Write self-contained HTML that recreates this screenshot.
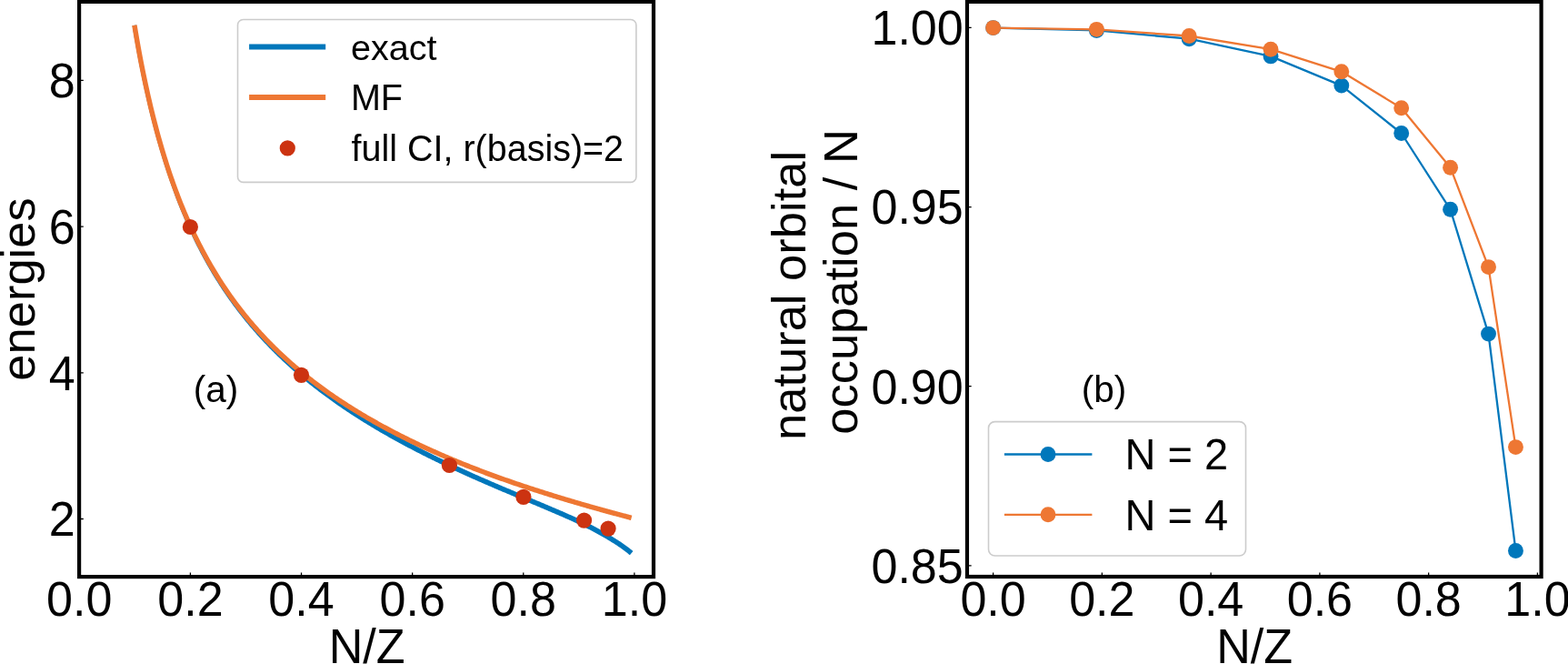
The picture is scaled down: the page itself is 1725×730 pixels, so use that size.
<!DOCTYPE html>
<html><head><meta charset="utf-8"><title>figure</title>
<style>html,body{margin:0;padding:0;background:#fff;}svg{display:block;}</style>
</head><body>
<svg width="1725" height="730" viewBox="0 0 1725 730">
<rect width="1725" height="730" fill="#fff"/>
<defs><clipPath id="cl"><rect x="87.1" y="1.9" width="631.9" height="632.2"/></clipPath><clipPath id="cr"><rect x="1063.95" y="1.9" width="631.6499999999999" height="632.1"/></clipPath></defs>
<g clip-path="url(#cl)">
<path d="M149.81,27.55 L151.18,35.78 L152.54,43.73 L153.91,51.44 L155.28,58.91 L156.65,66.16 L158.02,73.19 L159.39,80.02 L160.75,86.65 L162.12,93.10 L163.49,99.38 L164.86,105.48 L166.23,111.43 L167.59,117.22 L168.96,122.87 L170.33,128.38 L171.70,133.75 L173.06,138.99 L174.43,144.11 L175.80,149.11 L177.17,154.00 L178.53,158.77 L179.90,163.44 L181.27,168.01 L182.63,172.48 L184.00,176.85 L185.37,181.14 L186.73,185.33 L188.10,189.44 L189.47,193.47 L190.83,197.42 L192.20,201.30 L193.57,205.10 L194.93,208.82 L196.30,212.48 L197.67,216.07 L199.03,219.60 L200.40,223.06 L201.76,226.46 L203.13,229.80 L204.49,233.09 L205.86,236.32 L207.23,239.49 L208.59,242.61 L209.96,245.68 L211.32,248.71 L212.69,251.68 L214.05,254.60 L215.42,257.48 L216.78,260.32 L218.15,263.11 L219.51,265.86 L220.88,268.57 L222.25,271.24 L223.61,273.87 L224.98,276.46 L226.34,279.02 L227.70,281.54 L229.07,284.02 L230.43,286.47 L231.80,288.89 L233.16,291.27 L234.53,293.62 L235.89,295.94 L237.26,298.23 L238.62,300.49 L239.99,302.72 L241.35,304.92 L242.72,307.10 L244.08,309.25 L245.45,311.37 L246.81,313.46 L248.17,315.53 L249.54,317.58 L250.90,319.60 L252.27,321.59 L253.63,323.57 L255.00,325.52 L256.36,327.45 L257.72,329.35 L259.09,331.24 L260.45,333.10 L261.82,334.94 L263.18,336.77 L264.55,338.57 L265.91,340.36 L267.27,342.12 L268.64,343.87 L270.00,345.59 L271.37,347.30 L272.73,349.00 L274.10,350.67 L275.46,352.33 L276.83,353.97 L278.20,355.59 L279.57,357.20 L280.94,358.79 L282.31,360.36 L283.68,361.92 L285.05,363.46 L286.42,364.98 L287.79,366.50 L289.16,367.99 L290.54,369.48 L291.91,370.94 L293.29,372.40 L294.66,373.84 L296.04,375.27 L297.41,376.68 L298.79,378.08 L300.16,379.47 L301.54,380.84 L302.92,382.21 L304.29,383.56 L305.67,384.90 L307.05,386.22 L308.42,387.54 L309.80,388.85 L311.18,390.14 L312.56,391.42 L313.93,392.70 L315.31,393.96 L316.69,395.21 L318.06,396.45 L319.44,397.68 L320.82,398.90 L322.20,400.12 L323.57,401.32 L324.95,402.51 L326.33,403.70 L327.70,404.87 L329.08,406.04 L330.45,407.20 L331.83,408.35 L333.20,409.49 L334.58,410.62 L335.95,411.75 L337.33,412.87 L338.70,413.98 L340.07,415.08 L341.45,416.18 L342.82,417.27 L344.19,418.35 L345.56,419.42 L346.93,420.49 L348.30,421.55 L349.67,422.61 L351.04,423.65 L352.41,424.70 L353.78,425.73 L355.15,426.76 L356.51,427.79 L357.88,428.81 L359.25,429.82 L360.61,430.82 L361.98,431.83 L363.34,432.82 L364.71,433.81 L366.07,434.80 L367.43,435.78 L368.80,436.75 L370.16,437.72 L371.52,438.68 L372.89,439.64 L374.25,440.59 L375.62,441.53 L376.98,442.47 L378.34,443.41 L379.71,444.34 L381.07,445.26 L382.44,446.18 L383.80,447.09 L385.17,448.00 L386.53,448.91 L387.89,449.80 L389.26,450.70 L390.62,451.59 L391.99,452.47 L393.35,453.35 L394.72,454.23 L396.08,455.10 L397.45,455.96 L398.81,456.82 L400.18,457.68 L401.54,458.53 L402.91,459.38 L404.27,460.23 L405.63,461.07 L407.00,461.90 L408.36,462.73 L409.73,463.56 L411.09,464.38 L412.46,465.20 L413.83,466.02 L415.19,466.83 L416.56,467.64 L417.92,468.44 L419.29,469.24 L420.65,470.04 L422.02,470.83 L423.38,471.62 L424.75,472.41 L426.11,473.19 L427.48,473.97 L428.84,474.75 L430.21,475.52 L431.58,476.29 L432.94,477.05 L434.31,477.82 L435.67,478.57 L437.04,479.33 L438.40,480.08 L439.77,480.83 L441.14,481.58 L442.50,482.32 L443.87,483.06 L445.23,483.80 L446.60,484.53 L447.97,485.26 L449.33,485.99 L450.70,486.71 L452.06,487.43 L453.43,488.15 L454.80,488.87 L456.16,489.58 L457.53,490.29 L458.90,491.00 L460.26,491.71 L461.63,492.41 L462.99,493.11 L464.36,493.80 L465.73,494.50 L467.09,495.19 L468.46,495.88 L469.83,496.57 L471.19,497.25 L472.56,497.93 L473.93,498.61 L475.29,499.29 L476.66,499.96 L478.03,500.63 L479.39,501.30 L480.76,501.97 L482.13,502.64 L483.49,503.30 L484.86,503.96 L486.23,504.62 L487.59,505.27 L488.96,505.93 L490.33,506.58 L491.70,507.23 L493.06,507.87 L494.43,508.52 L495.80,509.16 L497.16,509.80 L498.53,510.44 L499.90,511.08 L501.27,511.71 L502.63,512.35 L504.00,512.98 L505.37,513.61 L506.73,514.24 L508.10,514.86 L509.47,515.48 L510.84,516.11 L512.20,516.73 L513.57,517.34 L514.94,517.96 L516.31,518.58 L517.68,519.19 L519.04,519.80 L520.41,520.41 L521.78,521.02 L523.15,521.63 L524.51,522.23 L525.88,522.84 L527.25,523.44 L528.62,524.04 L529.99,524.64 L531.35,525.24 L532.72,525.83 L534.09,526.43 L535.46,527.02 L536.83,527.61 L538.19,528.21 L539.56,528.80 L540.93,529.39 L542.30,529.97 L543.67,530.56 L545.04,531.15 L546.41,531.73 L547.77,532.32 L549.14,532.90 L550.51,533.48 L551.88,534.06 L553.25,534.64 L554.62,535.22 L555.99,535.80 L557.36,536.38 L558.73,536.96 L560.09,537.53 L561.46,538.11 L562.83,538.68 L564.20,539.26 L565.57,539.83 L566.94,540.41 L568.31,540.98 L569.68,541.55 L571.05,542.12 L572.42,542.70 L573.79,543.27 L575.16,543.84 L576.53,544.41 L577.90,544.98 L579.27,545.56 L580.64,546.13 L582.01,546.70 L583.38,547.27 L584.75,547.84 L586.12,548.41 L587.49,548.99 L588.86,549.56 L590.23,550.13 L591.61,550.70 L592.98,551.28 L594.35,551.85 L595.72,552.43 L597.09,553.00 L598.46,553.58 L599.83,554.16 L601.20,554.74 L602.58,555.31 L603.95,555.89 L605.32,556.48 L606.69,557.06 L608.06,557.64 L609.44,558.23 L610.81,558.81 L612.18,559.40 L613.55,559.99 L614.93,560.58 L616.30,561.17 L617.67,561.77 L619.05,562.36 L620.42,562.96 L621.79,563.57 L623.17,564.17 L624.54,564.78 L625.92,565.39 L627.29,566.00 L628.67,566.61 L630.04,567.23 L631.42,567.86 L632.80,568.48 L634.17,569.11 L635.55,569.75 L636.93,570.39 L638.30,571.03 L639.68,571.68 L641.06,572.34 L642.44,573.00 L643.82,573.67 L645.20,574.34 L646.58,575.02 L647.96,575.71 L649.34,576.41 L650.72,577.11 L652.10,577.82 L653.48,578.54 L654.86,579.27 L656.25,580.00 L657.63,580.74 L659.01,581.49 L660.39,582.25 L661.77,583.02 L663.15,583.79 L664.53,584.57 L665.92,585.37 L667.30,586.17 L668.68,586.97 L670.06,587.79 L671.44,588.62 L672.82,589.45 L674.21,590.30 L675.59,591.15 L676.97,592.02 L678.36,592.90 L679.74,593.79 L681.13,594.69 L682.52,595.61 L683.90,596.54 L685.29,597.49 L686.68,598.46 L688.08,599.45 L689.47,600.47 L690.87,601.51 L692.26,602.57 L693.66,603.66 L695.06,604.78 L696.44,605.92 L692.88,610.24 L691.53,609.13 L690.19,608.05 L688.84,607.00 L687.50,605.98 L686.15,604.98 L684.81,604.00 L683.46,603.04 L682.11,602.10 L680.76,601.18 L679.41,600.27 L678.05,599.37 L676.70,598.49 L675.34,597.62 L673.99,596.76 L672.63,595.91 L671.27,595.07 L669.92,594.24 L668.56,593.42 L667.20,592.61 L665.84,591.80 L664.48,591.01 L663.12,590.22 L661.76,589.44 L660.40,588.67 L659.04,587.91 L657.68,587.15 L656.33,586.41 L654.97,585.67 L653.61,584.94 L652.25,584.22 L650.89,583.50 L649.53,582.80 L648.17,582.10 L646.81,581.40 L645.45,580.72 L644.09,580.04 L642.73,579.37 L641.37,578.71 L640.01,578.05 L638.65,577.39 L637.28,576.74 L635.92,576.10 L634.56,575.46 L633.20,574.83 L631.83,574.20 L630.47,573.58 L629.10,572.95 L627.74,572.34 L626.37,571.72 L625.01,571.11 L623.64,570.50 L622.28,569.90 L620.91,569.29 L619.55,568.69 L618.18,568.10 L616.81,567.50 L615.44,566.91 L614.08,566.31 L612.71,565.72 L611.34,565.13 L609.97,564.55 L608.61,563.96 L607.24,563.38 L605.87,562.79 L604.50,562.21 L603.13,561.63 L601.77,561.05 L600.40,560.47 L599.03,559.90 L597.66,559.32 L596.29,558.74 L594.92,558.17 L593.55,557.59 L592.18,557.02 L590.81,556.44 L589.44,555.87 L588.07,555.30 L586.70,554.73 L585.33,554.15 L583.96,553.58 L582.59,553.01 L581.22,552.44 L579.85,551.87 L578.48,551.30 L577.11,550.72 L575.74,550.15 L574.37,549.58 L573.00,549.01 L571.63,548.44 L570.26,547.86 L568.89,547.29 L567.52,546.72 L566.15,546.14 L564.78,545.57 L563.41,545.00 L562.04,544.42 L560.67,543.85 L559.29,543.27 L557.92,542.69 L556.55,542.12 L555.18,541.54 L553.81,540.96 L552.44,540.38 L551.07,539.80 L549.69,539.22 L548.32,538.63 L546.95,538.05 L545.58,537.47 L544.21,536.88 L542.83,536.30 L541.46,535.71 L540.09,535.12 L538.72,534.53 L537.35,533.94 L535.97,533.35 L534.60,532.75 L533.23,532.16 L531.86,531.56 L530.49,530.97 L529.11,530.37 L527.74,529.77 L526.37,529.17 L525.00,528.56 L523.62,527.96 L522.25,527.35 L520.88,526.75 L519.50,526.14 L518.13,525.53 L516.76,524.91 L515.39,524.30 L514.01,523.68 L512.64,523.07 L511.27,522.45 L509.89,521.83 L508.52,521.20 L507.15,520.58 L505.78,519.95 L504.40,519.33 L503.03,518.70 L501.66,518.06 L500.28,517.43 L498.91,516.79 L497.54,516.16 L496.16,515.52 L494.79,514.88 L493.42,514.23 L492.04,513.59 L490.67,512.94 L489.30,512.29 L487.92,511.63 L486.55,510.98 L485.18,510.32 L483.80,509.66 L482.43,509.00 L481.05,508.34 L479.68,507.67 L478.31,507.00 L476.93,506.33 L475.56,505.66 L474.19,504.99 L472.81,504.31 L471.44,503.63 L470.06,502.94 L468.69,502.26 L467.32,501.57 L465.94,500.88 L464.57,500.19 L463.19,499.49 L461.82,498.79 L460.45,498.09 L459.07,497.39 L457.70,496.68 L456.32,495.97 L454.95,495.26 L453.58,494.55 L452.20,493.83 L450.83,493.11 L449.45,492.39 L448.08,491.66 L446.70,490.93 L445.33,490.20 L443.96,489.46 L442.58,488.73 L441.21,487.99 L439.83,487.24 L438.46,486.49 L437.08,485.74 L435.71,484.99 L434.33,484.23 L432.96,483.47 L431.58,482.71 L430.21,481.94 L428.83,481.17 L427.46,480.40 L426.08,479.62 L424.71,478.84 L423.33,478.05 L421.96,477.27 L420.58,476.48 L419.21,475.68 L417.83,474.88 L416.46,474.08 L415.08,473.27 L413.71,472.46 L412.33,471.65 L410.96,470.83 L409.58,470.01 L408.21,469.18 L406.83,468.35 L405.46,467.52 L404.08,466.68 L402.71,465.84 L401.33,464.99 L399.95,464.14 L398.58,463.29 L397.20,462.43 L395.83,461.56 L394.45,460.69 L393.08,459.82 L391.70,458.94 L390.32,458.06 L388.95,457.17 L387.57,456.28 L386.20,455.39 L384.82,454.48 L383.44,453.58 L382.07,452.67 L380.69,451.75 L379.31,450.83 L377.94,449.90 L376.56,448.97 L375.19,448.03 L373.81,447.09 L372.43,446.14 L371.06,445.19 L369.68,444.23 L368.30,443.26 L366.93,442.29 L365.55,441.32 L364.17,440.33 L362.80,439.34 L361.42,438.35 L360.04,437.35 L358.67,436.34 L357.29,435.33 L355.91,434.31 L354.53,433.28 L353.16,432.25 L351.78,431.21 L350.40,430.16 L349.03,429.11 L347.65,428.05 L346.27,426.98 L344.89,425.91 L343.52,424.83 L342.14,423.74 L340.76,422.64 L339.38,421.54 L338.01,420.43 L336.63,419.31 L335.25,418.18 L333.87,417.05 L332.50,415.90 L331.12,414.75 L329.74,413.59 L328.36,412.42 L326.98,411.25 L325.61,410.06 L324.23,408.87 L322.85,407.66 L321.47,406.45 L320.09,405.23 L318.72,404.00 L317.34,402.76 L315.96,401.51 L314.58,400.25 L313.20,398.98 L311.82,397.70 L310.45,396.41 L309.07,395.10 L307.69,393.79 L306.31,392.47 L304.93,391.14 L303.55,389.79 L302.17,388.44 L300.80,387.07 L299.42,385.69 L298.04,384.30 L296.66,382.90 L295.28,381.48 L293.90,380.05 L292.52,378.61 L291.14,377.16 L289.77,375.69 L288.39,374.21 L287.01,372.72 L285.63,371.21 L284.25,369.69 L282.87,368.16 L281.49,366.61 L280.11,365.04 L278.73,363.46 L277.35,361.87 L275.98,360.26 L274.60,358.63 L273.22,356.99 L271.84,355.33 L270.46,353.65 L269.08,351.96 L267.70,350.25 L266.32,348.52 L264.94,346.77 L263.56,345.00 L262.18,343.22 L260.81,341.42 L259.43,339.59 L258.05,337.75 L256.67,335.89 L255.29,334.00 L253.91,332.10 L252.53,330.17 L251.15,328.22 L249.77,326.25 L248.39,324.26 L247.02,322.24 L245.64,320.20 L244.26,318.13 L242.88,316.04 L241.50,313.92 L240.12,311.78 L238.74,309.61 L237.36,307.41 L235.98,305.19 L234.61,302.93 L233.23,300.65 L231.85,298.34 L230.47,295.99 L229.09,293.62 L227.72,291.21 L226.34,288.77 L224.97,286.29 L223.60,283.78 L222.23,281.23 L220.85,278.65 L219.48,276.03 L218.12,273.37 L216.75,270.67 L215.38,267.93 L214.01,265.15 L212.65,262.33 L211.28,259.46 L209.92,256.55 L208.55,253.59 L207.19,250.59 L205.82,247.54 L204.46,244.44 L203.10,241.28 L201.74,238.08 L200.37,234.82 L199.01,231.50 L197.65,228.13 L196.29,224.70 L194.92,221.20 L193.56,217.65 L192.20,214.03 L190.84,210.34 L189.47,206.58 L188.11,202.75 L186.75,198.85 L185.38,194.87 L184.02,190.82 L182.65,186.68 L181.29,182.45 L179.92,178.14 L178.55,173.74 L177.18,169.24 L175.82,164.65 L174.45,159.95 L173.07,155.15 L171.70,150.24 L170.33,145.22 L168.95,140.08 L167.58,134.81 L166.21,129.41 L164.83,123.88 L163.46,118.21 L162.09,112.39 L160.71,106.42 L159.34,100.29 L157.97,93.99 L156.59,87.52 L155.22,80.86 L153.85,74.01 L152.48,66.96 L151.10,59.69 L149.73,52.20 L148.36,44.47 L146.99,36.49 L145.61,28.25 Z" fill="#0077bb"/>
<path d="M147.93,27.78 L149.30,36.00 L150.67,43.96 L152.04,51.68 L153.41,59.15 L154.78,66.40 L156.15,73.44 L157.52,80.27 L158.89,86.91 L160.26,93.37 L161.64,99.65 L163.01,105.76 L164.38,111.71 L165.75,117.51 L167.12,123.16 L168.49,128.67 L169.86,134.05 L171.23,139.29 L172.60,144.42 L173.97,149.42 L175.34,154.31 L176.71,159.09 L178.08,163.76 L179.45,168.33 L180.82,172.81 L182.19,177.18 L183.56,181.47 L184.93,185.67 L186.30,189.78 L187.67,193.81 L189.04,197.77 L190.41,201.64 L191.78,205.44 L193.15,209.17 L194.52,212.83 L195.89,216.42 L197.26,219.95 L198.63,223.41 L200.00,226.82 L201.37,230.16 L202.74,233.44 L204.11,236.67 L205.48,239.85 L206.85,242.97 L208.22,246.04 L209.59,249.06 L210.96,252.03 L212.33,254.96 L213.70,257.84 L215.08,260.67 L216.45,263.46 L217.82,266.21 L219.19,268.92 L220.56,271.58 L221.93,274.21 L223.30,276.80 L224.67,279.35 L226.04,281.87 L227.41,284.35 L228.78,286.80 L230.15,289.21 L231.52,291.59 L232.89,293.93 L234.26,296.25 L235.63,298.53 L237.00,300.79 L238.37,303.01 L239.74,305.21 L241.11,307.38 L242.48,309.52 L243.85,311.64 L245.22,313.72 L246.59,315.79 L247.96,317.83 L249.33,319.84 L250.70,321.83 L252.07,323.79 L253.44,325.73 L254.81,327.65 L256.18,329.55 L257.55,331.43 L258.92,333.28 L260.29,335.12 L261.66,336.93 L263.03,338.72 L264.40,340.50 L265.77,342.25 L267.14,343.99 L268.51,345.70 L269.89,347.40 L271.26,349.08 L272.63,350.74 L274.00,352.39 L275.37,354.02 L276.74,355.63 L278.11,357.23 L279.48,358.81 L280.85,360.37 L282.22,361.92 L283.59,363.46 L284.96,364.97 L286.33,366.48 L287.70,367.97 L289.07,369.44 L290.44,370.91 L291.81,372.35 L293.18,373.79 L294.55,375.21 L295.92,376.62 L297.29,378.01 L298.66,379.40 L300.03,380.77 L301.40,382.12 L302.77,383.47 L304.14,384.80 L305.51,386.13 L306.88,387.44 L308.25,388.74 L309.62,390.03 L310.99,391.30 L312.36,392.57 L313.73,393.83 L315.10,395.07 L316.47,396.31 L317.84,397.54 L319.21,398.75 L320.58,399.96 L321.95,401.15 L323.33,402.34 L324.70,403.52 L326.07,404.68 L327.44,405.84 L328.81,406.99 L330.18,408.13 L331.55,409.27 L332.92,410.39 L334.29,411.50 L335.66,412.61 L337.03,413.71 L338.40,414.80 L339.77,415.88 L341.14,416.95 L342.51,418.02 L343.88,419.08 L345.25,420.13 L346.62,421.17 L347.99,422.21 L349.36,423.24 L350.73,424.26 L352.10,425.27 L353.47,426.28 L354.84,427.28 L356.21,428.27 L357.58,429.26 L358.95,430.24 L360.32,431.21 L361.69,432.18 L363.06,433.14 L364.43,434.09 L365.80,435.04 L367.17,435.98 L368.54,436.92 L369.91,437.84 L371.28,438.77 L372.65,439.68 L374.02,440.60 L375.39,441.50 L376.76,442.40 L378.14,443.30 L379.51,444.18 L380.88,445.07 L382.25,445.95 L383.62,446.82 L384.99,447.69 L386.36,448.55 L387.73,449.40 L389.10,450.26 L390.47,451.10 L391.84,451.94 L393.21,452.78 L394.58,453.61 L395.95,454.44 L397.32,455.26 L398.69,456.08 L400.06,456.89 L401.43,457.70 L402.80,458.50 L404.17,459.30 L405.54,460.10 L406.91,460.89 L408.28,461.67 L409.65,462.46 L411.02,463.23 L412.39,464.01 L413.76,464.77 L415.13,465.54 L416.50,466.30 L417.87,467.06 L419.24,467.81 L420.61,468.56 L421.98,469.30 L423.35,470.04 L424.72,470.78 L426.09,471.51 L427.46,472.24 L428.83,472.97 L430.20,473.69 L431.58,474.41 L432.95,475.13 L434.32,475.84 L435.69,476.54 L437.06,477.25 L438.43,477.95 L439.80,478.65 L441.17,479.34 L442.54,480.03 L443.91,480.72 L445.28,481.40 L446.65,482.08 L448.02,482.76 L449.39,483.43 L450.76,484.10 L452.13,484.77 L453.50,485.44 L454.87,486.10 L456.24,486.76 L457.61,487.41 L458.98,488.06 L460.35,488.71 L461.72,489.36 L463.09,490.00 L464.46,490.64 L465.83,491.28 L467.20,491.91 L468.57,492.54 L469.94,493.17 L471.31,493.80 L472.68,494.42 L474.05,495.04 L475.42,495.66 L476.79,496.27 L478.16,496.88 L479.53,497.49 L480.90,498.10 L482.27,498.70 L483.64,499.30 L485.01,499.90 L486.39,500.50 L487.76,501.09 L489.13,501.68 L490.50,502.27 L491.87,502.85 L493.24,503.44 L494.61,504.02 L495.98,504.59 L497.35,505.17 L498.72,505.74 L500.09,506.31 L501.46,506.88 L502.83,507.44 L504.20,508.01 L505.57,508.57 L506.94,509.12 L508.31,509.68 L509.68,510.23 L511.05,510.78 L512.42,511.33 L513.79,511.88 L515.16,512.42 L516.53,512.96 L517.90,513.50 L519.27,514.04 L520.64,514.57 L522.01,515.11 L523.38,515.64 L524.75,516.17 L526.12,516.69 L527.49,517.22 L528.86,517.74 L530.23,518.26 L531.60,518.77 L532.97,519.29 L534.34,519.80 L535.71,520.31 L537.08,520.82 L538.45,521.33 L539.83,521.83 L541.20,522.34 L542.57,522.84 L543.94,523.34 L545.31,523.83 L546.68,524.33 L548.05,524.82 L549.42,525.31 L550.79,525.80 L552.16,526.29 L553.53,526.78 L554.90,527.26 L556.27,527.74 L557.64,528.22 L559.01,528.70 L560.38,529.18 L561.75,529.65 L563.12,530.12 L564.49,530.60 L565.86,531.07 L567.23,531.53 L568.60,532.00 L569.97,532.46 L571.34,532.93 L572.71,533.39 L574.08,533.85 L575.45,534.31 L576.82,534.76 L578.19,535.22 L579.56,535.67 L580.93,536.12 L582.30,536.57 L583.67,537.02 L585.04,537.47 L586.41,537.91 L587.78,538.36 L589.15,538.80 L590.52,539.24 L591.89,539.68 L593.27,540.12 L594.64,540.56 L596.01,540.99 L597.38,541.43 L598.75,541.86 L600.12,542.29 L601.49,542.72 L602.86,543.15 L604.23,543.58 L605.60,544.00 L606.97,544.43 L608.34,544.85 L609.71,545.28 L611.08,545.70 L612.45,546.12 L613.82,546.53 L615.19,546.95 L616.56,547.37 L617.93,547.78 L619.30,548.20 L620.67,548.61 L622.04,549.02 L623.41,549.43 L624.78,549.84 L626.15,550.25 L627.52,550.66 L628.89,551.06 L630.26,551.47 L631.63,551.87 L633.00,552.27 L634.37,552.67 L635.74,553.07 L637.11,553.47 L638.48,553.87 L639.85,554.27 L641.22,554.66 L642.59,555.06 L643.96,555.45 L645.33,555.84 L646.70,556.24 L648.08,556.63 L649.45,557.02 L650.82,557.41 L652.19,557.79 L653.56,558.18 L654.93,558.57 L656.30,558.95 L657.67,559.33 L659.04,559.72 L660.41,560.10 L661.78,560.48 L663.15,560.86 L664.52,561.24 L665.89,561.62 L667.26,561.99 L668.63,562.37 L670.00,562.74 L671.37,563.12 L672.74,563.49 L674.11,563.86 L675.48,564.23 L676.85,564.60 L678.22,564.97 L679.59,565.34 L680.96,565.71 L682.33,566.08 L683.70,566.44 L685.07,566.81 L686.44,567.17 L687.81,567.53 L689.18,567.90 L690.55,568.26 L691.92,568.62 L693.29,568.98 L694.66,569.34" fill="none" stroke="#ee7733" stroke-width="5.5" stroke-linejoin="round"/>
<circle cx="209.4" cy="249.5" r="8.6" fill="#cc3311"/>
<circle cx="331.5" cy="412.3" r="8.6" fill="#cc3311"/>
<circle cx="494.4" cy="511.5" r="8.6" fill="#cc3311"/>
<circle cx="575.9" cy="546.3" r="8.6" fill="#cc3311"/>
<circle cx="642.6" cy="572.1" r="8.6" fill="#cc3311"/>
<circle cx="669.1" cy="581.1" r="8.6" fill="#cc3311"/>
</g>
<path d="M209.42,634.1 L209.42,629.5 M331.54,634.1 L331.54,629.5 M453.66,634.1 L453.66,629.5 M575.78,634.1 L575.78,629.5 M697.90,634.1 L697.90,629.5 M87.1,570.50 L91.8,570.50 M87.1,409.80 L91.8,409.80 M87.1,249.10 L91.8,249.10 M87.1,88.40 L91.8,88.40" stroke="#000" stroke-width="1.3" fill="none"/>
<rect x="87.1" y="1.9" width="631.9" height="632.2" fill="none" stroke="#000" stroke-width="4.2"/>
<text transform="translate(87.30,676.50) scale(1,1.035)" font-family="'Liberation Sans', sans-serif" font-size="52.1" text-anchor="middle">0.0</text>
<text transform="translate(209.42,676.50) scale(1,1.035)" font-family="'Liberation Sans', sans-serif" font-size="52.1" text-anchor="middle">0.2</text>
<text transform="translate(331.54,676.50) scale(1,1.035)" font-family="'Liberation Sans', sans-serif" font-size="52.1" text-anchor="middle">0.4</text>
<text transform="translate(453.66,676.50) scale(1,1.035)" font-family="'Liberation Sans', sans-serif" font-size="52.1" text-anchor="middle">0.6</text>
<text transform="translate(575.78,676.50) scale(1,1.035)" font-family="'Liberation Sans', sans-serif" font-size="52.1" text-anchor="middle">0.8</text>
<text transform="translate(697.90,676.50) scale(1,1.035)" font-family="'Liberation Sans', sans-serif" font-size="52.1" text-anchor="middle">1.0</text>
<text transform="translate(82.70,589.40) scale(1,1.035)" font-family="'Liberation Sans', sans-serif" font-size="52.1" text-anchor="end">2</text>
<text transform="translate(82.70,428.70) scale(1,1.035)" font-family="'Liberation Sans', sans-serif" font-size="52.1" text-anchor="end">4</text>
<text transform="translate(82.70,268.00) scale(1,1.035)" font-family="'Liberation Sans', sans-serif" font-size="52.1" text-anchor="end">6</text>
<text transform="translate(82.70,107.30) scale(1,1.035)" font-family="'Liberation Sans', sans-serif" font-size="52.1" text-anchor="end">8</text>
<text transform="translate(403.60,729.00) scale(1,1.04)" font-family="'Liberation Sans', sans-serif" font-size="52.1" text-anchor="middle">N/Z</text>
<text transform="translate(38,318) rotate(-90)" font-family="'Liberation Sans', sans-serif" font-size="52.5" text-anchor="middle">energies</text>
<text x="212.8" y="441.7" font-family="'Liberation Sans', sans-serif" font-size="40.5">(a)</text>
<rect x="261.5" y="21.5" width="438.4" height="178.9" rx="6" fill="#fff" fill-opacity="0.8" stroke="#cccccc" stroke-width="1.6"/>
<path d="M274.1,51.5 L358.2,51.5" stroke="#0077bb" stroke-width="5.8"/>
<path d="M274.1,107.0 L358.2,107.0" stroke="#ee7733" stroke-width="5.8"/>
<circle cx="316.3" cy="162.9" r="8.6" fill="#cc3311"/>
<text transform="translate(385.90,65.80)" font-family="'Liberation Sans', sans-serif" font-size="39.6">exact</text>
<text transform="translate(385.90,121.20) scale(1,1.04)" font-family="'Liberation Sans', sans-serif" font-size="39.6">MF</text>
<text transform="translate(386.60,176.50) scale(1,1.02)" font-family="'Liberation Sans', sans-serif" font-size="39.5">full CI, r(basis)=2</text>
<g clip-path="url(#cr)">
<path d="M1092.60,30.60 L1206.37,33.45 L1308.17,42.70 L1397.99,61.90 L1475.83,94.10 L1541.70,146.50 L1595.59,230.30 L1637.51,367.10 L1667.45,605.50" fill="none" stroke="#0077bb" stroke-width="2.3" stroke-linejoin="round"/>
<circle cx="1092.60" cy="30.6" r="8.45" fill="#0077bb"/>
<circle cx="1206.37" cy="33.45" r="8.45" fill="#0077bb"/>
<circle cx="1308.17" cy="42.7" r="8.45" fill="#0077bb"/>
<circle cx="1397.99" cy="61.9" r="8.45" fill="#0077bb"/>
<circle cx="1475.83" cy="94.1" r="8.45" fill="#0077bb"/>
<circle cx="1541.70" cy="146.5" r="8.45" fill="#0077bb"/>
<circle cx="1595.59" cy="230.3" r="8.45" fill="#0077bb"/>
<circle cx="1637.51" cy="367.1" r="8.45" fill="#0077bb"/>
<circle cx="1667.45" cy="605.5" r="8.45" fill="#0077bb"/>
<path d="M1092.60,30.60 L1206.37,32.35 L1308.17,39.50 L1397.99,54.20 L1475.83,78.80 L1541.70,118.70 L1595.59,184.20 L1637.51,293.60 L1667.45,491.60" fill="none" stroke="#ee7733" stroke-width="2.3" stroke-linejoin="round"/>
<circle cx="1092.60" cy="30.6" r="8.45" fill="#ee7733"/>
<circle cx="1206.37" cy="32.35" r="8.45" fill="#ee7733"/>
<circle cx="1308.17" cy="39.5" r="8.45" fill="#ee7733"/>
<circle cx="1397.99" cy="54.2" r="8.45" fill="#ee7733"/>
<circle cx="1475.83" cy="78.8" r="8.45" fill="#ee7733"/>
<circle cx="1541.70" cy="118.7" r="8.45" fill="#ee7733"/>
<circle cx="1595.59" cy="184.2" r="8.45" fill="#ee7733"/>
<circle cx="1637.51" cy="293.6" r="8.45" fill="#ee7733"/>
<circle cx="1667.45" cy="491.6" r="8.45" fill="#ee7733"/>
</g>
<path d="M1092.60,634.0 L1092.60,629.4 M1212.36,634.0 L1212.36,629.4 M1332.12,634.0 L1332.12,629.4 M1451.88,634.0 L1451.88,629.4 M1571.64,634.0 L1571.64,629.4 M1691.40,634.0 L1691.40,629.4 M1063.95,30.40 L1068.65,30.40 M1063.95,227.54 L1068.65,227.54 M1063.95,424.67 L1068.65,424.67 M1063.95,621.81 L1068.65,621.81" stroke="#000" stroke-width="1.3" fill="none"/>
<rect x="1063.95" y="1.9" width="631.6499999999999" height="632.1" fill="none" stroke="#000" stroke-width="4.2"/>
<text transform="translate(1092.60,676.50) scale(1,1.035)" font-family="'Liberation Sans', sans-serif" font-size="52.1" text-anchor="middle">0.0</text>
<text transform="translate(1212.36,676.50) scale(1,1.035)" font-family="'Liberation Sans', sans-serif" font-size="52.1" text-anchor="middle">0.2</text>
<text transform="translate(1332.12,676.50) scale(1,1.035)" font-family="'Liberation Sans', sans-serif" font-size="52.1" text-anchor="middle">0.4</text>
<text transform="translate(1451.88,676.50) scale(1,1.035)" font-family="'Liberation Sans', sans-serif" font-size="52.1" text-anchor="middle">0.6</text>
<text transform="translate(1571.64,676.50) scale(1,1.035)" font-family="'Liberation Sans', sans-serif" font-size="52.1" text-anchor="middle">0.8</text>
<text transform="translate(1691.40,676.50) scale(1,1.035)" font-family="'Liberation Sans', sans-serif" font-size="52.1" text-anchor="middle">1.0</text>
<text transform="translate(1059.80,49.30) scale(1,1.035)" font-family="'Liberation Sans', sans-serif" font-size="52.1" text-anchor="end">1.00</text>
<text transform="translate(1059.80,246.44) scale(1,1.035)" font-family="'Liberation Sans', sans-serif" font-size="52.1" text-anchor="end">0.95</text>
<text transform="translate(1059.80,443.57) scale(1,1.035)" font-family="'Liberation Sans', sans-serif" font-size="52.1" text-anchor="end">0.90</text>
<text transform="translate(1059.80,640.71) scale(1,1.035)" font-family="'Liberation Sans', sans-serif" font-size="52.1" text-anchor="end">0.85</text>
<text transform="translate(1380.20,729.00) scale(1,1.04)" font-family="'Liberation Sans', sans-serif" font-size="52.1" text-anchor="middle">N/Z</text>
<text transform="translate(886.3,484) rotate(-90)" font-family="'Liberation Sans', sans-serif" font-size="52.5">natural orbital</text>
<text transform="translate(942.5,477.8) rotate(-90)" font-family="'Liberation Sans', sans-serif" font-size="52.5">occupation / N</text>
<text x="1189.8" y="441.7" font-family="'Liberation Sans', sans-serif" font-size="40.5">(b)</text>
<rect x="1087.5" y="463.6" width="283" height="147.4" rx="7" fill="#fff" fill-opacity="0.8" stroke="#cccccc" stroke-width="1.6"/>
<path d="M1104.9,499.5 L1201.4,499.5" stroke="#0077bb" stroke-width="2.3"/>
<circle cx="1153.0" cy="499.5" r="8.45" fill="#0077bb"/>
<path d="M1104.9,565.8 L1201.4,565.8" stroke="#ee7733" stroke-width="2.3"/>
<circle cx="1153.0" cy="565.8" r="8.45" fill="#ee7733"/>
<text transform="translate(1237.50,516.00) scale(1,1.04)" font-family="'Liberation Sans', sans-serif" font-size="47">N = 2</text>
<text transform="translate(1237.50,582.60) scale(1,1.04)" font-family="'Liberation Sans', sans-serif" font-size="47">N = 4</text>
</svg>
</body></html>
